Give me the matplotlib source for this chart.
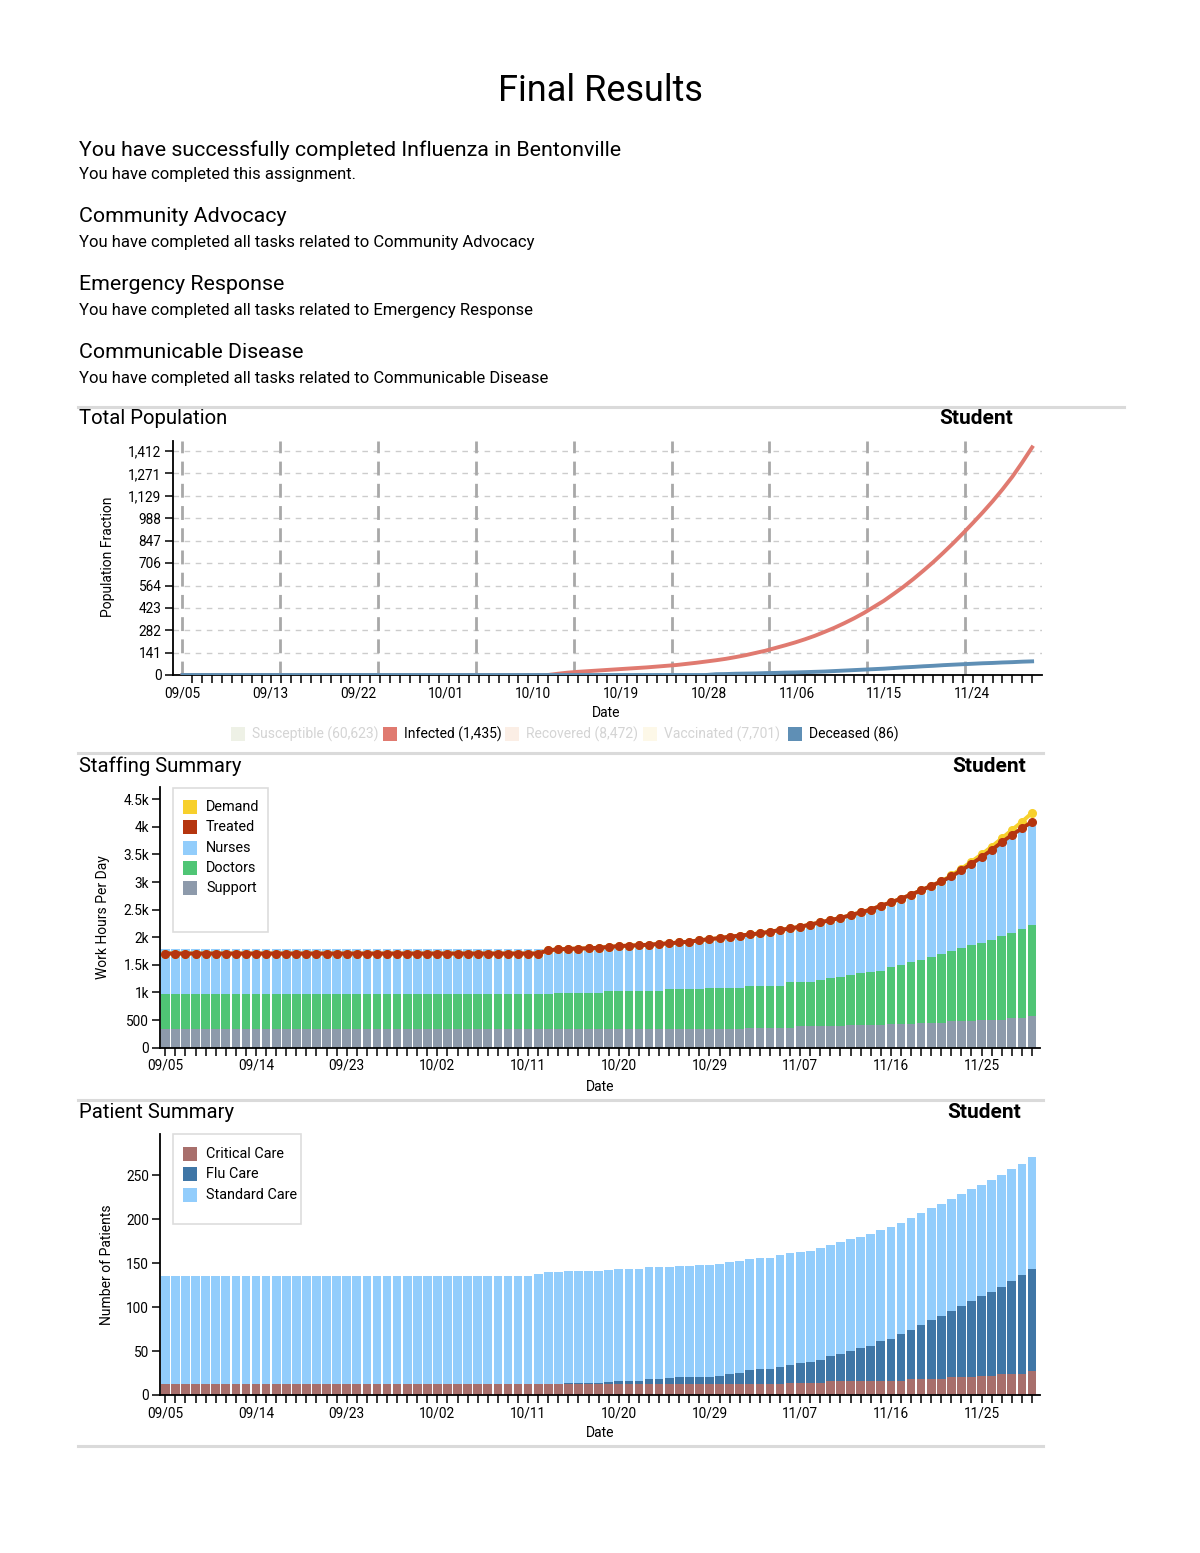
import matplotlib.pyplot as plt
import numpy as np
from matplotlib.patches import Rectangle
from matplotlib.lines import Line2D

plt.rcParams['font.family'] = ['Roboto', 'DejaVu Sans']

W, H = 1200, 1553

# ---- data (one value per day from 09/05 to 11/30) ----
days = np.arange(87)

pop_tick_labels = ['09/05', '09/13', '09/22', '10/01', '10/10', '10/19', '10/28', '11/06', '11/15', '11/24']
bar_tick_labels = ['09/05', '09/14', '09/23', '10/02', '10/11', '10/20', '10/29', '11/07', '11/16', '11/25']
pop_yticks = [0, 141, 282, 423, 564, 706, 847, 988, 1129, 1271, 1412]

infected = [0] * 38 + [8, 15, 20, 24, 28, 32, 36, 40, 44, 48, 53, 58, 63, 70, 77, 85, 93, 102,
                       113, 125, 139, 153, 170, 187, 205, 225, 247, 272, 298, 327, 358, 392, 430,
                       468, 512, 557, 606, 658, 712, 770, 830, 893, 958, 1025, 1095, 1170, 1250,
                       1340, 1435]
deceased = [0] * 54 + [5, 6, 8, 9, 10, 12, 13, 15, 16, 18, 20, 22, 25, 28, 31, 34, 37,
                       40, 44, 48, 51, 55, 58, 62, 65, 68, 71, 74, 76, 79, 81, 84, 86]

legend_pop = ['Susceptible (60,623)', 'Infected (1,435)', 'Recovered (8,472)', 'Vaccinated (7,701)', 'Deceased (86)']

support = [333] * 58 + [362] * 5 + [387] * 5 + [405] * 4 + [429] * 3 + [452] * 3 + [477] * 3 + [507] * 3 + [537] * 2 + [573]
doctors = [639] * 39 + [662] * 5 + [698] * 6 + [724] * 4 + [753] * 4 + [760] * 4 + [821, 796, 796, 838, 868, 898, 910, 940,
           965, 983, 1026, 1071, 1116, 1138, 1184, 1238, 1267, 1323, 1381, 1393, 1442, 1513, 1533, 1613, 1647]
nurses = [808] * 39 + [785, 795, 800, 805, 815, 794, 809, 817, 824, 834, 847, 833, 848, 863, 888, 879, 899, 924, 944,
                       928, 948, 978, 1008, 977, 1007, 1047, 1045, 1055, 1065, 1085, 1105, 1130, 1182, 1175, 1200,
                       1225, 1260, 1294, 1320, 1356, 1410, 1462, 1530, 1601, 1660, 1730, 1760, 1790]
treated = [1705] * 38 + [1765, 1780, 1790, 1795, 1800, 1810, 1825, 1840, 1848, 1855, 1865, 1878, 1890, 1905, 1920,
                         1945, 1965, 1985, 2010, 2030, 2050, 2070, 2100, 2130, 2160, 2190, 2230, 2270, 2310, 2350,
                         2400, 2450, 2500, 2570, 2630, 2700, 2770, 2850, 2930, 3010, 3100, 3210, 3330, 3450, 3580,
                         3720, 3850, 3970, 4090]
demand = [1705] * 38 + [1765, 1780, 1790, 1795, 1800, 1810, 1825, 1840, 1848, 1855, 1865, 1878, 1890, 1905, 1920,
                        1945, 1965, 1985, 2010, 2030, 2050, 2070, 2100, 2130, 2160, 2190, 2230, 2270, 2310, 2350,
                        2400, 2450, 2500, 2570, 2630, 2700, 2770, 2850, 2930, 3010, 3120, 3240, 3370, 3500, 3640,
                        3790, 3940, 4090, 4250]
staff_yticks = [0, 500, 1000, 1500, 2000, 2500, 3000, 3500, 4000, 4500]
staff_ylabels = ['0', '500', '1k', '1.5k', '2k', '2.5k', '3k', '3.5k', '4k', '4.5k']

critical = [13] * 62 + [14] * 4 + [16] * 8 + [18] * 4 + [21] * 3 + [22] * 2 + [24] * 3 + [27]
flu = [0] * 40 + [1] * 4 + [2] + [3] * 3 + [5] * 2 + [6] + [7] * 2 + [8] * 2 + [9, 11, 12, 15, 16, 16, 19,
       20, 22, 23, 26, 28, 31, 34, 37, 40, 45, 48, 53, 56, 62, 67, 72, 75, 80, 86, 90, 95, 99, 106, 112, 116]
standard = [122] * 37 + [124] + [127] * 49
patient_yticks = [0, 50, 100, 150, 200, 250]

# ---- helpers in pixel coordinates ----
fig = plt.figure(figsize=(W / 100, H / 100), dpi=100)


def px_axes(l, t, r, b):
    return fig.add_axes([l / W, 1 - b / H, (r - l) / W, (b - t) / H])


def ftext(x, y, s, **kw):
    kw.setdefault('va', 'center')
    fig.text(x / W, 1 - y / H, s, **kw)


def frect(x, y, w, h, fc, ec='none', lw=1.0, z=3):
    fig.add_artist(Rectangle((x / W, 1 - (y + h) / H), w / W, h / H, transform=fig.transFigure,
                             facecolor=fc, edgecolor=ec, linewidth=lw, zorder=z))


def sep(y, x0, x1):
    fig.add_artist(Line2D([x0 / W, x1 / W], [1 - y / H, 1 - y / H], transform=fig.transFigure,
                          color='#dadada', lw=2.2))


def style(ax):
    for s in ['top', 'right']:
        ax.spines[s].set_visible(False)
    for s in ['left', 'bottom']:
        ax.spines[s].set_linewidth(1.3)
    ax.tick_params(which='both', length=6, width=1.1, labelsize=9.8, pad=2, colors='black')


# ---- header texts ----
ftext(600, 91, 'Final Results', ha='center', fontsize=26)
ftext(79, 150, 'You have successfully completed Influenza in Bentonville', fontsize=15.4)
ftext(79, 175, 'You have completed this assignment.', fontsize=12)
ftext(79, 217, 'Community Advocacy', fontsize=15.4)
ftext(79, 242, 'You have completed all tasks related to Community Advocacy', fontsize=12)
ftext(79, 285, 'Emergency Response', fontsize=15.4)
ftext(79, 310, 'You have completed all tasks related to Emergency Response', fontsize=12)
ftext(79, 352, 'Communicable Disease', fontsize=15.4)
ftext(79, 378, 'You have completed all tasks related to Communicable Disease', fontsize=12)

# ---- Total Population ----
sep(407, 78, 1124)
ftext(79, 419, 'Total Population', fontsize=14.6)
ftext(1013, 419, 'Student', ha='right', fontsize=15, fontweight='bold')

ax1 = px_axes(172.6, 441, 1042, 675)
style(ax1)
ax1.set_xlim(-1, 87.0)
ax1.set_ylim(0, 1475)
for v in pop_yticks[1:]:
    ax1.axhline(v, color='#cccccc', lw=1, ls=(0, (4, 4)), zorder=0)
for g in np.arange(9) * 9.9:
    ax1.axvline(g, color='#a8a8a8', lw=2, ls=(0, (5, 3)), zorder=0)
ax1.plot(days, infected, color='#e07a70', lw=2.8, zorder=3)
ax1.plot(days, deceased, color='#5f8fb5', lw=2.8, zorder=4)
ax1.set_yticks(pop_yticks)
ax1.set_yticklabels([f'{v:,}' for v in pop_yticks])
ax1.set_xticks(np.arange(10) * 8.88)
ax1.set_xticklabels(pop_tick_labels)
ax1.set_xticks(days, minor=True)
ax1.tick_params(axis='x', which='major', length=0, pad=8)
ftext(606, 713, 'Date', ha='center', fontsize=10)
ftext(108, 557, 'Population Fraction', ha='center', rotation=90, fontsize=10)

pop_colors = ['#eef1e6', '#e07a70', '#fbeee5', '#fdf8e8', '#5f8fb5']
pop_text_colors = ['#d4d4d4', 'black', '#d4d4d4', '#d4d4d4', 'black']
pop_x = [231, 383, 505, 643, 788]
for lab, c, tc, x in zip(legend_pop, pop_colors, pop_text_colors, pop_x):
    ftext(x + 21, 734, lab, fontsize=10, color=tc)
    frect(x, 727, 14, 14, c, z=5)

# ---- Staffing Summary ----
sep(753, 78, 1043)
ftext(79, 766, 'Staffing Summary', fontsize=14.6)
ftext(1026, 766, 'Student', ha='right', fontsize=15, fontweight='bold')

ax2 = px_axes(160.3, 787, 1040, 1047.7)
style(ax2)
ax2.set_xlim(-0.5, 86.8)
ax2.set_ylim(0, 4720)
sup = np.array(support)
doc = np.array(doctors)
nur = np.array(nurses)
ax2.bar(days, sup, width=0.86, color='#8d9aab', zorder=2)
ax2.bar(days, doc, bottom=sup, width=0.86, color='#4fc575', zorder=2)
ax2.bar(days, nur, bottom=sup + doc, width=0.86, color='#92cdfb', zorder=2)
ax2.plot(days, demand, color='#f7d02c', lw=2.8, marker='o', ms=5.5, zorder=4)
ax2.plot(days, treated, color='#b5350f', lw=2.8, marker='o', ms=5.5, zorder=5)
ax2.set_yticks(staff_yticks)
ax2.set_yticklabels(staff_ylabels)
ax2.set_xticks(np.arange(0, 82, 9))
ax2.set_xticklabels(bar_tick_labels)
ax2.set_xticks(days, minor=True)
ftext(600, 1087, 'Date', ha='center', fontsize=10)
ftext(103, 917, 'Work Hours Per Day', ha='center', rotation=90, fontsize=10)

frect(173, 788, 95, 144, 'white', ec='#dddddd', lw=1.2, z=6)
staff_legend = [('Demand', '#f7d02c'), ('Treated', '#b5350f'), ('Nurses', '#92cdfb'),
                ('Doctors', '#4fc575'), ('Support', '#8d9aab')]
for i, (lab, c) in enumerate(staff_legend):
    y = 807 + i * 20.3
    frect(183, y - 7, 14, 14, c, z=7)
    ftext(206, y, lab, fontsize=10.4, zorder=7)

# ---- Patient Summary ----
sep(1100, 78, 1043)
ftext(79, 1113, 'Patient Summary', fontsize=14.6)
ftext(1021, 1113, 'Student', ha='right', fontsize=15, fontweight='bold')

ax3 = px_axes(160.3, 1134, 1040, 1395)
style(ax3)
ax3.set_xlim(-0.5, 86.8)
ax3.set_ylim(0, 296.6)
cri = np.array(critical)
flc = np.array(flu)
std = np.array(standard)
ax3.bar(days, cri, width=0.86, color='#a86f6c', zorder=2)
ax3.bar(days, flc, bottom=cri, width=0.86, color='#3f76a6', zorder=2)
ax3.bar(days, std, bottom=cri + flc, width=0.86, color='#92cdfc', zorder=2)
ax3.set_yticks(patient_yticks)
ax3.set_xticks(np.arange(0, 82, 9))
ax3.set_xticklabels(bar_tick_labels)
ax3.set_xticks(days, minor=True)
ftext(600, 1433, 'Date', ha='center', fontsize=10)
ftext(107, 1265, 'Number of Patients', ha='center', rotation=90, fontsize=10)

frect(173, 1134, 128, 90, 'white', ec='#dddddd', lw=1.2, z=6)
patient_legend = [('Critical Care', '#a86f6c'), ('Flu Care', '#3f76a6'), ('Standard Care', '#92cdfc')]
for i, (lab, c) in enumerate(patient_legend):
    y = 1154 + i * 20.3
    frect(183, y - 7, 14, 14, c, z=7)
    ftext(206, y, lab, fontsize=10.4, zorder=7)

sep(1446, 78, 1043)

fig.savefig('out.png', dpi=100)
